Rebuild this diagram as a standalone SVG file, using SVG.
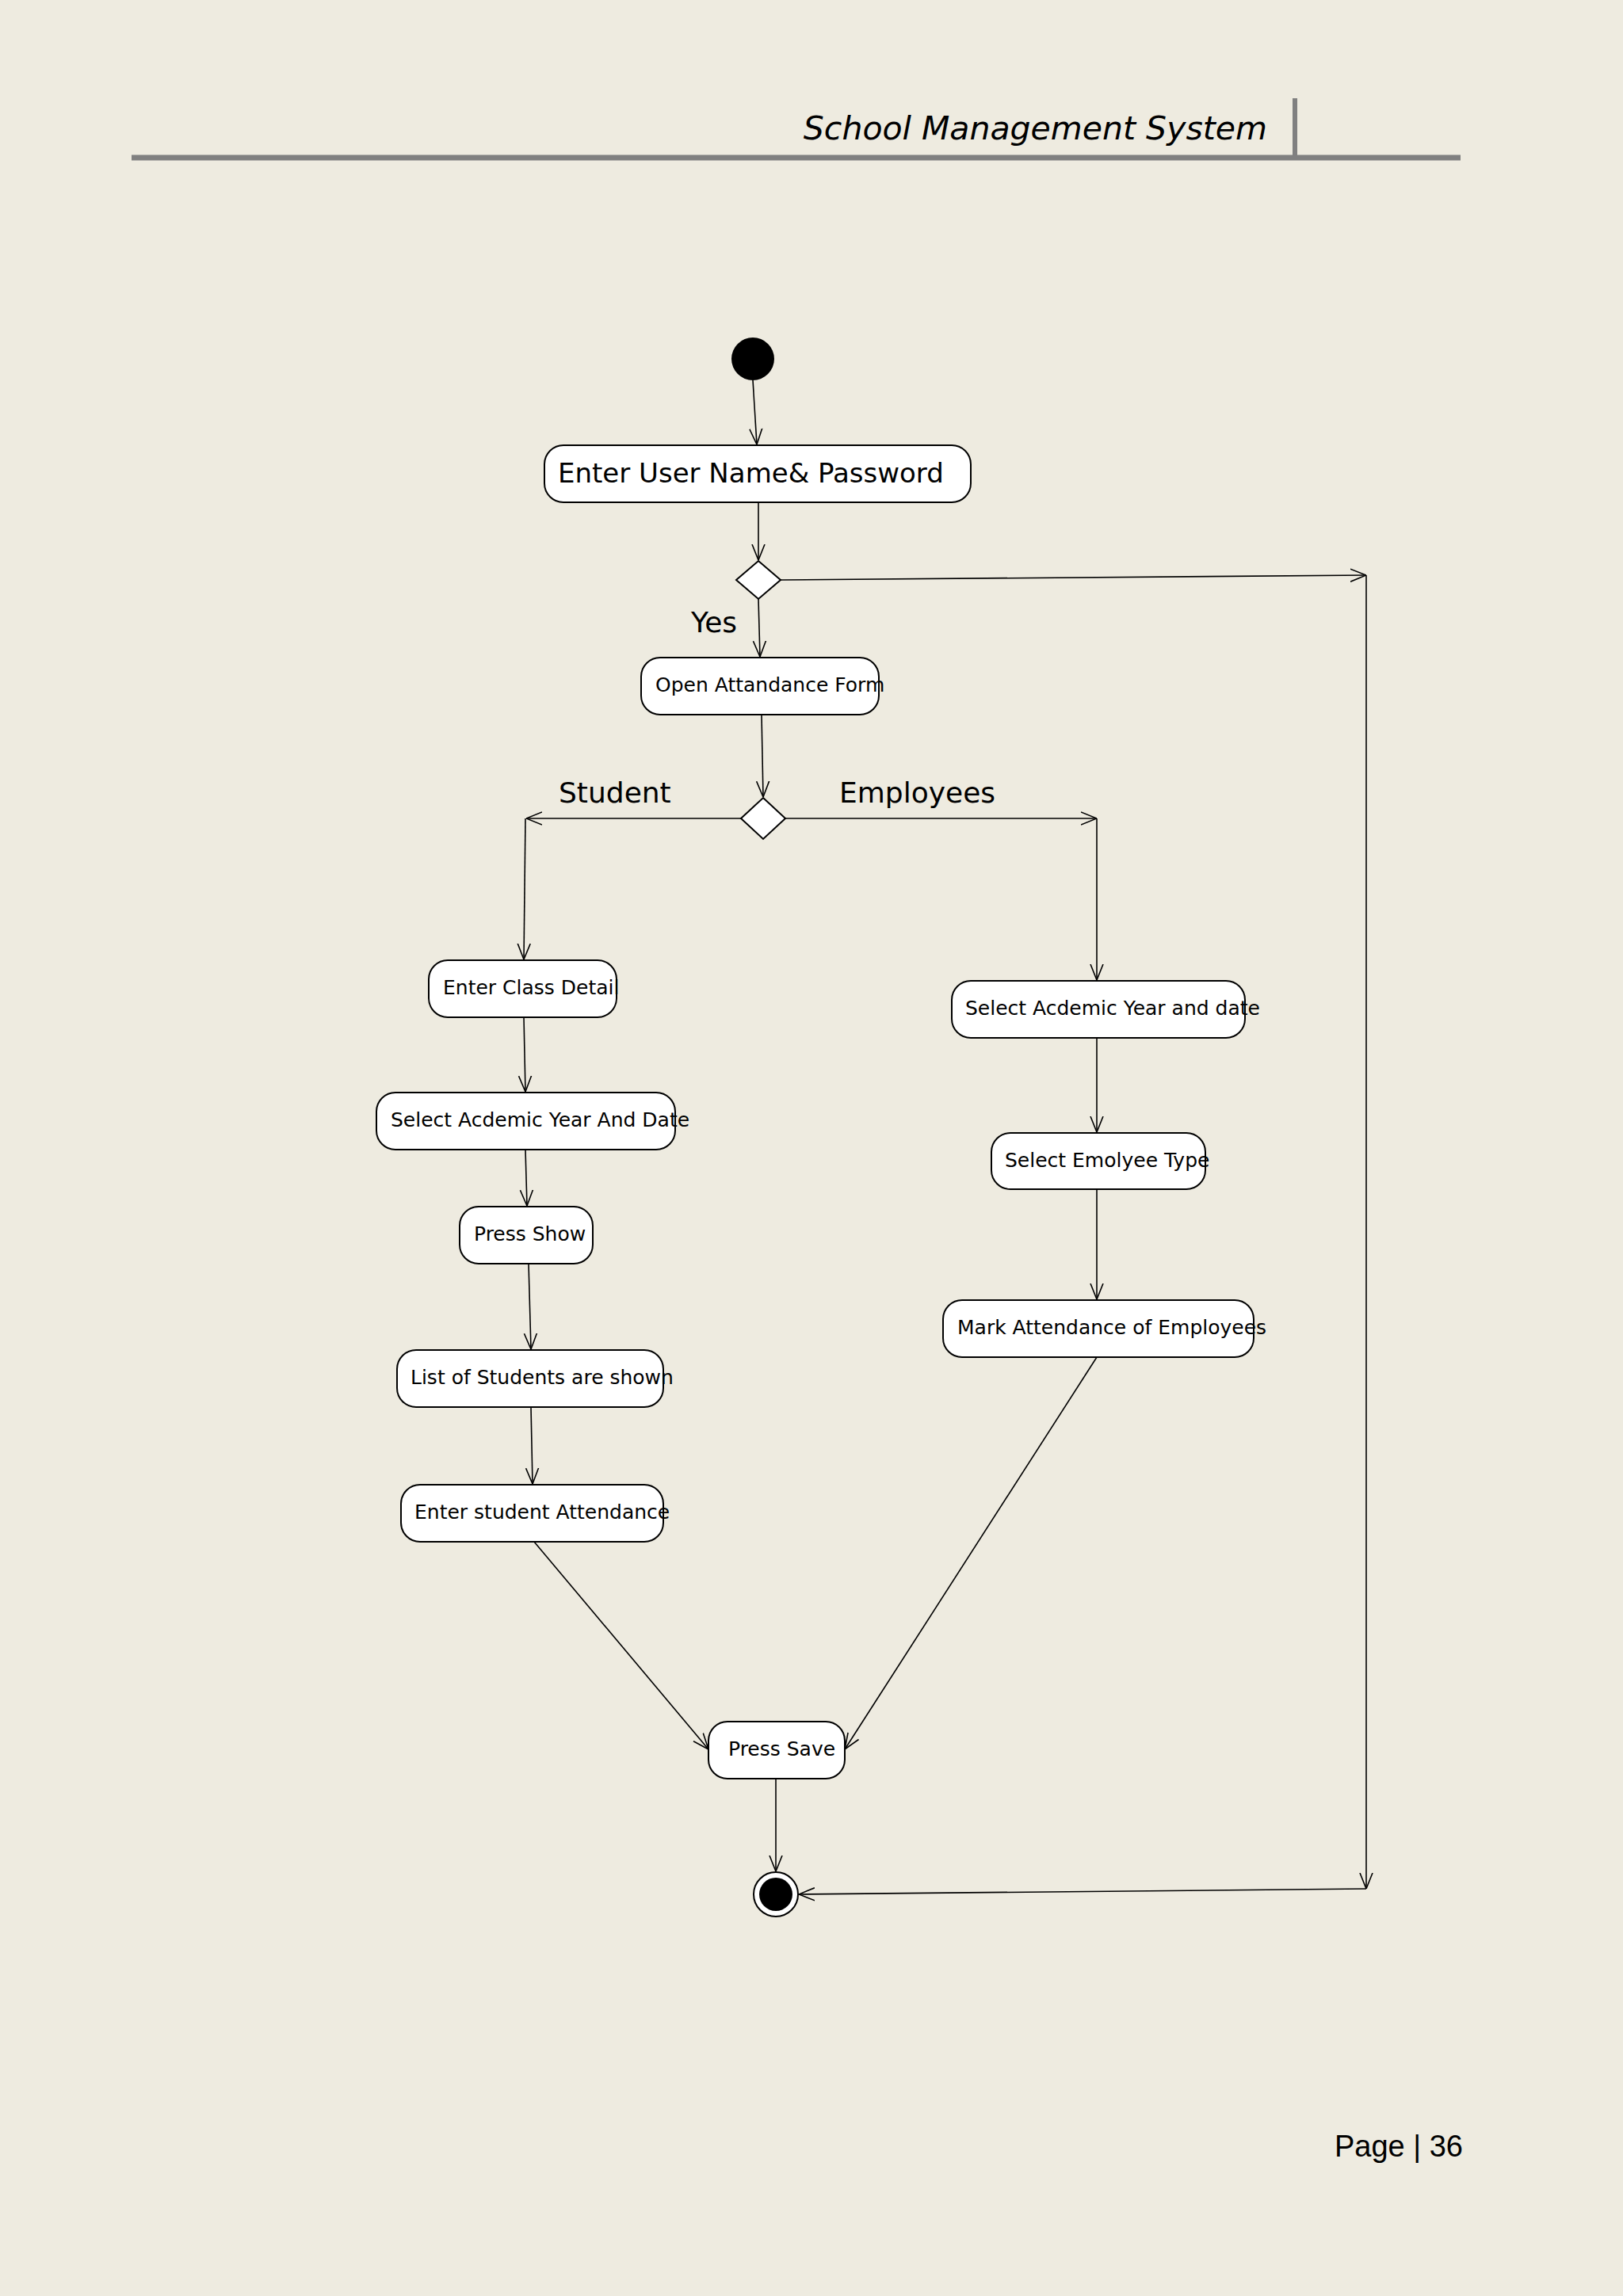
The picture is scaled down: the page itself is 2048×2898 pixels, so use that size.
<svg xmlns="http://www.w3.org/2000/svg" width="2048" height="2898" viewBox="0 0 2048 2898">
<style>
.n rect{fill:#fff;stroke:#000;stroke-width:2}
.n text{font-family:"DejaVu Sans",sans-serif;font-size:25px;fill:#000}
.big text{font-size:34px}
#connectors line,#connectors polyline{stroke:#000;stroke-width:1.6;fill:none}
.lbl{font-family:"DejaVu Sans",sans-serif;font-size:36px;fill:#000}
</style>
<defs>
<marker id="a" viewBox="0 0 20 20" refX="20" refY="10" markerWidth="20" markerHeight="20" markerUnits="userSpaceOnUse" orient="auto"><path d="M0,2 L20,10 L0,18" fill="none" stroke="#000" stroke-width="1.6"/></marker>
</defs>
<rect width="2048" height="2898" fill="#eeebe0"/>
<g id="header">
<text x="1599" y="176" text-anchor="end" font-family="DejaVu Sans,sans-serif" font-style="italic" font-size="41" fill="#000">School Management System</text>
<line x1="166" y1="199" x2="1843" y2="199" stroke="#808080" stroke-width="7"/>
<line x1="1634" y1="124" x2="1634" y2="199" stroke="#808080" stroke-width="6"/>
</g>
<g id="connectors">
<line x1="950" y1="480" x2="955" y2="561" marker-end="url(#a)"/>
<line x1="957" y1="634" x2="957" y2="707" marker-end="url(#a)"/>
<line x1="957" y1="756" x2="959" y2="829" marker-end="url(#a)"/>
<line x1="961" y1="902" x2="963" y2="1006" marker-end="url(#a)"/>
<line x1="935" y1="1033" x2="664" y2="1033" marker-end="url(#a)"/>
<line x1="663" y1="1033" x2="661" y2="1211" marker-end="url(#a)"/>
<line x1="991" y1="1033" x2="1384" y2="1033" marker-end="url(#a)"/>
<line x1="1384" y1="1033" x2="1384" y2="1237" marker-end="url(#a)"/>
<line x1="661" y1="1284" x2="663" y2="1378" marker-end="url(#a)"/>
<line x1="663" y1="1451" x2="665" y2="1522" marker-end="url(#a)"/>
<line x1="667" y1="1595" x2="670" y2="1703" marker-end="url(#a)"/>
<line x1="670" y1="1776" x2="672" y2="1873" marker-end="url(#a)"/>
<line x1="674" y1="1946" x2="894" y2="2208" marker-end="url(#a)"/>
<line x1="1384" y1="1713" x2="1066" y2="2208" marker-end="url(#a)"/>
<line x1="1384" y1="1310" x2="1384" y2="1429" marker-end="url(#a)"/>
<line x1="1384" y1="1501" x2="1384" y2="1640" marker-end="url(#a)"/>
<line x1="979" y1="2245" x2="979" y2="2362" marker-end="url(#a)"/>
<line x1="985" y1="732" x2="1724" y2="726" marker-end="url(#a)"/>
<line x1="1724" y1="726" x2="1724" y2="2384" marker-end="url(#a)"/>
<line x1="1724" y1="2384" x2="1008" y2="2391" marker-end="url(#a)"/>
</g>
<g id="start"><circle cx="950" cy="453" r="27" fill="#000"/></g>
<g id="end"><circle cx="979" cy="2391" r="28" fill="#fff" stroke="#000" stroke-width="2"/><circle cx="979" cy="2391" r="21" fill="#000"/></g>
<g id="d1"><polygon points="957,708 985,732 957,756 929,732" fill="#fff" stroke="#000" stroke-width="2"/></g>
<g id="d2"><polygon points="963,1007 991,1033 963,1059 935,1033" fill="#fff" stroke="#000" stroke-width="2"/></g>
<text class="lbl" x="872" y="798">Yes</text>
<text class="lbl" x="705" y="1013">Student</text>
<text class="lbl" x="1059" y="1013">Employees</text>
<g id="login" class="n big"><rect x="687" y="562" width="538" height="72" rx="24"/><text x="704" y="609">Enter User Name&amp; Password</text></g>
<g id="open" class="n"><rect x="809" y="830" width="300" height="72" rx="24"/><text x="827" y="873">Open Attandance Form</text></g>
<g id="classd" class="n"><rect x="541" y="1212" width="237" height="72" rx="24"/><text x="559" y="1255">Enter Class Detail</text></g>
<g id="selyear" class="n"><rect x="475" y="1379" width="377" height="72" rx="24"/><text x="493" y="1422">Select Acdemic Year And Date</text></g>
<g id="show" class="n"><rect x="580" y="1523" width="168" height="72" rx="24"/><text x="598" y="1566">Press Show</text></g>
<g id="list" class="n"><rect x="501" y="1704" width="336" height="72" rx="24"/><text x="518" y="1747">List of Students are shown</text></g>
<g id="enteratt" class="n"><rect x="506" y="1874" width="331" height="72" rx="24"/><text x="523" y="1917">Enter student Attendance</text></g>
<g id="selyear2" class="n"><rect x="1201" y="1238" width="370" height="72" rx="24"/><text x="1218" y="1281">Select Acdemic Year and date</text></g>
<g id="emptype" class="n"><rect x="1251" y="1430" width="270" height="71" rx="24"/><text x="1268" y="1473">Select Emolyee Type</text></g>
<g id="markatt" class="n"><rect x="1190" y="1641" width="392" height="72" rx="24"/><text x="1208" y="1684">Mark Attendance of Employees</text></g>
<g id="save" class="n"><rect x="894" y="2173" width="172" height="72" rx="24"/><text x="919" y="2216">Press Save</text></g>
<text x="1846" y="2722" text-anchor="end" font-family="Liberation Sans,sans-serif" font-size="38" fill="#000">Page | 36</text>
</svg>
